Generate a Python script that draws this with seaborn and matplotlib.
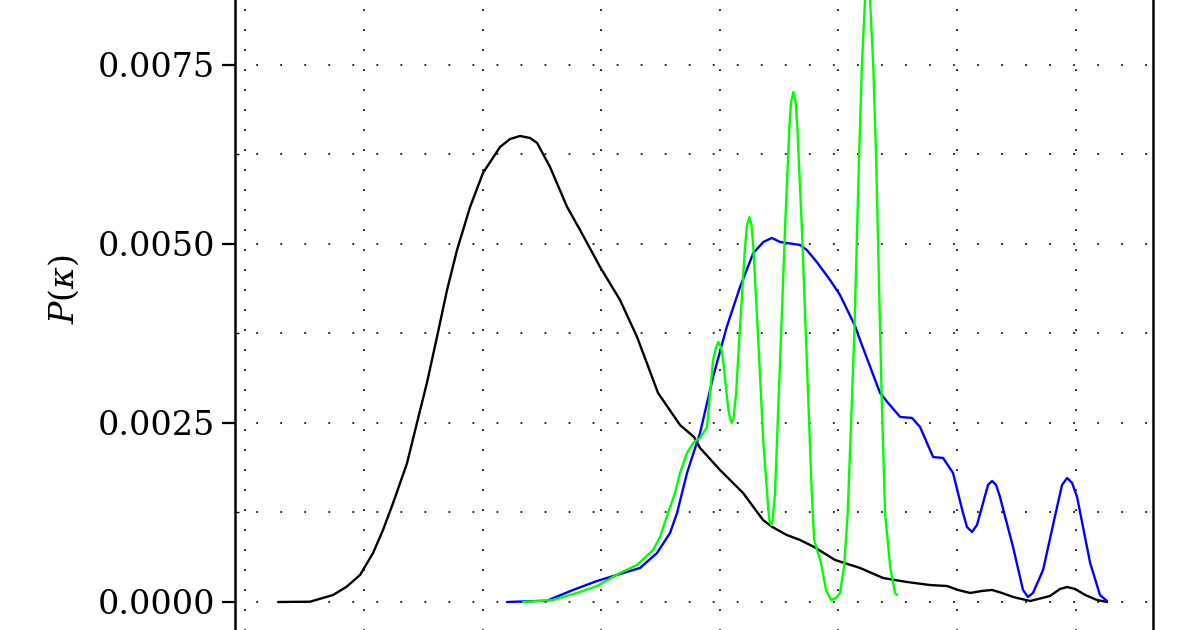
import numpy as np
import pandas as pd
import matplotlib
matplotlib.use("Agg")
import matplotlib.pyplot as plt
from matplotlib.ticker import MultipleLocator, FormatStrFormatter
import seaborn as sns

# ---- data ----
black_x = [0.275, 0.545, 0.739, 0.854, 0.966, 1.076, 1.160, 1.245, 1.363, 1.446, 1.530, 1.615,
           1.700, 1.784, 1.894, 2.003, 2.147, 2.231, 2.315, 2.400, 2.459, 2.568, 2.712, 2.821,
           2.990, 3.158, 3.302, 3.479, 3.560, 3.664, 3.782, 3.833, 4.001, 4.196, 4.364, 4.438,
           4.564, 4.676, 4.795, 4.971, 5.182, 5.376, 5.578, 5.772, 5.916, 6.008, 6.110, 6.210,
           6.295, 6.379, 6.472, 6.616, 6.784, 6.868, 6.928, 6.995, 7.080, 7.180, 7.264]
black_y = [0.000, 0.004, 0.098, 0.214, 0.377, 0.684, 1.006, 1.383, 1.941, 2.500, 3.059, 3.701,
           4.358, 4.916, 5.517, 5.992, 6.355, 6.466, 6.508, 6.480, 6.411, 6.075, 5.517, 5.196,
           4.679, 4.218, 3.701, 2.919, 2.723, 2.472, 2.304, 2.151, 1.844, 1.522, 1.145, 1.052,
           0.936, 0.866, 0.768, 0.587, 0.475, 0.335, 0.279, 0.237, 0.223, 0.168, 0.126, 0.154,
           0.168, 0.126, 0.070, 0.014, 0.084, 0.182, 0.209, 0.182, 0.098, 0.028, 0.000]

blue_x = [2.205, 2.542, 2.762, 2.964, 3.158, 3.327, 3.470, 3.580, 3.639, 3.723, 3.833, 3.943,
          4.058, 4.170, 4.282, 4.367, 4.438, 4.508, 4.564, 4.676, 4.733, 4.817, 4.929, 5.013,
          5.140, 5.182, 5.309, 5.351, 5.419, 5.520, 5.621, 5.688, 5.798, 5.882, 5.966, 6.050,
          6.084, 6.126, 6.168, 6.219, 6.261, 6.295, 6.329, 6.362, 6.472, 6.556, 6.598, 6.640,
          6.725, 6.843, 6.885, 6.928, 6.970, 7.012, 7.122, 7.205, 7.264]
blue_y = [0.000, 0.018, 0.168, 0.293, 0.391, 0.475, 0.684, 0.964, 1.243, 1.802, 2.360, 3.142,
          3.841, 4.399, 4.874, 5.028, 5.084, 5.028, 5.014, 4.986, 4.916, 4.749, 4.497, 4.288,
          3.855, 3.659, 3.101, 2.919, 2.779, 2.584, 2.570, 2.444, 2.025, 2.011, 1.802, 1.243,
          1.047, 0.978, 1.075, 1.383, 1.634, 1.690, 1.634, 1.466, 0.768, 0.168, 0.070, 0.126,
          0.447, 1.327, 1.634, 1.732, 1.662, 1.466, 0.545, 0.098, 0.014]

green_x = [2.340, 2.593, 2.821, 2.964, 3.158, 3.302, 3.437, 3.496, 3.563, 3.622, 3.664, 3.723,
           3.782, 3.833, 3.892, 3.943, 3.968, 3.987, 4.010, 4.027, 4.069, 4.086, 4.100, 4.115,
           4.137, 4.170, 4.212, 4.229, 4.249, 4.267, 4.282, 4.325, 4.367, 4.409, 4.419, 4.432,
           4.444, 4.465, 4.508, 4.550, 4.586, 4.600, 4.620, 4.639, 4.653, 4.691, 4.733, 4.775,
           4.795, 4.853, 4.895, 4.937, 4.979, 5.013, 5.047, 5.078, 5.106, 5.134, 5.174, 5.197,
           5.224, 5.245, 5.266, 5.294, 5.317, 5.345, 5.365, 5.393, 5.436, 5.477, 5.494]
green_y = [0.000, 0.028, 0.140, 0.223, 0.405, 0.517, 0.726, 0.908, 1.243, 1.522, 1.802, 2.081,
           2.235, 2.291, 2.444, 3.380, 3.560, 3.631, 3.560, 3.380, 2.723, 2.560, 2.500, 2.560,
           2.919, 3.841, 4.958, 5.260, 5.377, 5.260, 4.958, 3.617, 2.221, 1.285, 1.130, 1.075,
           1.130, 1.522, 3.380, 5.237, 6.634, 6.980, 7.123, 6.980, 6.634, 5.237, 3.380, 1.522,
           0.866, 0.545, 0.168, 0.028, 0.056, 0.126, 0.489, 1.243, 2.486, 3.757, 6.229, 7.472,
           8.408, 8.800, 8.408, 7.472, 6.229, 4.218, 2.821, 1.243, 0.489, 0.126, 0.098]

y_ticks = [0.0, 0.0025, 0.0050, 0.0075]
series_colors = {"black": "#000000", "blue": "#0000ff", "green": "#00ff00"}

# ---- long-form table ----
frames = []
for name, xs, ys in [("black", black_x, black_y), ("blue", blue_x, blue_y), ("green", green_x, green_y)]:
    frames.append(pd.DataFrame({"kappa": xs, "P": np.array(ys) * 1e-3, "series": name}))
df = pd.concat(frames, ignore_index=True)

# ---- style ----
sns.set_style("white")
plt.rcParams["font.family"] = ["DejaVu Serif"]
plt.rcParams["mathtext.fontset"] = "dejavuserif"
plt.rcParams["lines.scale_dashes"] = False
plt.rcParams["text.color"] = "black"
plt.rcParams["axes.labelcolor"] = "black"
plt.rcParams["ytick.color"] = "black"
plt.rcParams["xtick.color"] = "black"

fig = plt.figure(figsize=(12, 6.3), dpi=100)
ax = fig.add_axes([235 / 1200, -0.01238, (1153 - 235) / 1200, 1.0343])

sns.lineplot(data=df, x="kappa", y="P", hue="series", palette=series_colors,
             estimator=None, sort=False, legend=False, linewidth=1.7, ax=ax)
for ln in ax.get_lines():
    ln.set_solid_joinstyle("round")

ax.set_xlim(-0.088, 7.652)
ax.set_ylim(-0.0005, 0.0086)

ax.xaxis.set_major_locator(MultipleLocator(1))
ax.set_yticks(y_ticks)
ax.yaxis.set_minor_locator(MultipleLocator(0.00125))
ax.yaxis.set_major_formatter(FormatStrFormatter("%.4f"))

# grid: dotted
ax.grid(True, which="both", axis="y", color="#111111", linewidth=1.3,
        linestyle=(2.0, (1.3, 16.0)))
ax.grid(True, which="major", axis="x", color="#111111", linewidth=1.3,
        linestyle=(0, (1.3, 13.1)))
ax.set_axisbelow(True)

ax.tick_params(axis="y", which="major", direction="out", length=9.4, width=1.6,
               labelsize=24, pad=5, left=True, right=False, labelcolor="black")
ax.tick_params(axis="y", which="minor", direction="in", length=3, width=1.0, left=True)
ax.tick_params(axis="x", which="both", bottom=False, labelbottom=False)

for side in ["left", "right", "top", "bottom"]:
    ax.spines[side].set_visible(True)
    ax.spines[side].set_color("black")
    ax.spines[side].set_linewidth(1.8)

ax.set_xlabel("")
ax.set_ylabel(r"$P(\kappa)$", fontsize=24, color="black")
ax.yaxis.set_label_coords(-0.168, 0.535)

fig.savefig("out.png", dpi=100, facecolor="white")
